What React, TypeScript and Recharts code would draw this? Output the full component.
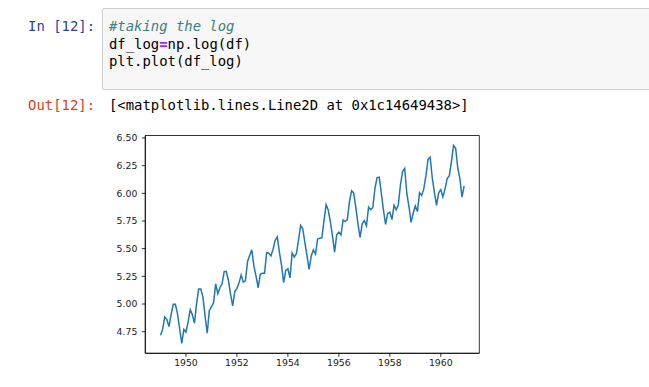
import { Line, LineChart, ReferenceArea, XAxis, YAxis } from "recharts";

// log of monthly airline passengers, one array per year (Jan..Dec)
const years = [1949, 1950, 1951, 1952, 1953, 1954, 1955, 1956, 1957, 1958, 1959, 1960];
const log1949 = [4.718, 4.771, 4.883, 4.860, 4.796, 4.905, 4.997, 4.997, 4.913, 4.779, 4.644, 4.771];
const log1950 = [4.745, 4.836, 4.949, 4.905, 4.828, 5.004, 5.136, 5.136, 5.063, 4.890, 4.736, 4.942];
const log1951 = [4.977, 5.011, 5.182, 5.094, 5.147, 5.182, 5.293, 5.293, 5.215, 5.088, 4.984, 5.112];
const log1952 = [5.142, 5.193, 5.263, 5.198, 5.209, 5.384, 5.438, 5.489, 5.342, 5.252, 5.147, 5.268];
const log1953 = [5.278, 5.278, 5.464, 5.460, 5.434, 5.493, 5.576, 5.606, 5.468, 5.352, 5.193, 5.303];
const log1954 = [5.318, 5.236, 5.460, 5.425, 5.455, 5.576, 5.710, 5.680, 5.557, 5.434, 5.313, 5.434];
const log1955 = [5.489, 5.451, 5.587, 5.595, 5.598, 5.753, 5.897, 5.849, 5.743, 5.613, 5.468, 5.628];
const log1956 = [5.649, 5.624, 5.759, 5.746, 5.762, 5.924, 6.023, 6.004, 5.872, 5.724, 5.602, 5.724];
const log1957 = [5.753, 5.707, 5.875, 5.852, 5.872, 6.045, 6.142, 6.146, 6.001, 5.849, 5.720, 5.817];
const log1958 = [5.829, 5.762, 5.892, 5.852, 5.894, 6.075, 6.196, 6.225, 6.001, 5.883, 5.737, 5.820];
const log1959 = [5.886, 5.835, 6.006, 5.981, 6.040, 6.157, 6.306, 6.326, 6.138, 6.009, 5.892, 6.004];
const log1960 = [6.033, 5.969, 6.038, 6.133, 6.157, 6.282, 6.433, 6.407, 6.230, 6.133, 5.966, 6.068];

const xTicks = [1950, 1952, 1954, 1956, 1958, 1960];
const yTicks = [4.75, 5.0, 5.25, 5.5, 5.75, 6.0, 6.25, 6.5];

const byYear = [log1949, log1950, log1951, log1952, log1953, log1954, log1955, log1956, log1957, log1958, log1959, log1960];
const rows = years.flatMap((year, i) => byYear[i].map((v, m) => ({ t: year + m / 12, v })));

const X_DOMAIN: [number, number] = [1948.404, 1961.512];
const Y_DOMAIN: [number, number] = [4.555, 6.522];

const MONO = "'DejaVu Sans Mono', monospace";
const TICK_FONT = { fontFamily: "'DejaVu Sans', sans-serif", fontSize: 9.3, fill: "#222" };

const monoText: React.CSSProperties = {
  position: "absolute",
  fontFamily: MONO,
  fontSize: 13.9,
  lineHeight: "17.6px",
  whiteSpace: "pre"
};

export default function App() {
  return (
    <div style={{ position: "absolute", left: 0, top: 0, width: 649, height: 387, background: "#fff", overflow: "hidden" }}>
      <div style={{ ...monoText, left: 28, width: 67, textAlign: "right", top: 18, color: "#303F9F" }}>In [12]:</div>
      <div
        style={{
          position: "absolute",
          left: 102,
          top: 8,
          width: 560,
          height: 80,
          background: "#f7f7f7",
          border: "1px solid #cfcfcf",
          borderRadius: 2
        }}
      />
      <div style={{ ...monoText, left: 109, top: 18, color: "#000" }}>
        <div style={{ color: "#408080", fontStyle: "italic" }}>#taking the log</div>
        <div>
          df_log<span style={{ color: "#AA22FF", fontWeight: "bold" }}>=</span>np.log(df)
        </div>
        <div>plt.plot(df_log)</div>
      </div>

      <div style={{ ...monoText, left: 28, width: 67, textAlign: "right", top: 97, color: "#D84315" }}>Out[12]:</div>
      <div style={{ ...monoText, left: 109, top: 97, color: "#000" }}>
        {"[<matplotlib.lines.Line2D at 0x1c14649438>]"}
      </div>

      <div style={{ position: "absolute", left: 100, top: 125 }}>
        <LineChart
          width={400}
          height={260}
          data={rows}
          margin={{ top: 10.5, right: 20.7, left: 0, bottom: 6.7 }}
        >
          <XAxis
            dataKey="t"
            type="number"
            domain={X_DOMAIN}
            allowDataOverflow
            ticks={xTicks}
            tickFormatter={(v: number) => String(Math.round(v))}
            height={25}
            tickSize={3.5}
            tickMargin={2.5}
            tick={TICK_FONT}
            stroke="#000"
            strokeWidth={0.8}
          />
          <YAxis
            type="number"
            domain={Y_DOMAIN}
            allowDataOverflow
            ticks={yTicks}
            tickFormatter={(v: number) => v.toFixed(2)}
            width={45.3}
            tickSize={3.5}
            tickMargin={4.5}
            tick={TICK_FONT}
            stroke="#000"
            strokeWidth={0.8}
          />
          {/* full axes frame, like matplotlib's four spines */}
          <ReferenceArea
            x1={X_DOMAIN[0]}
            x2={X_DOMAIN[1]}
            y1={Y_DOMAIN[0]}
            y2={Y_DOMAIN[1]}
            fill="none"
            fillOpacity={0}
            stroke="#000"
            strokeWidth={0.8}
            ifOverflow="visible"
          />
          <Line
            type="linear"
            dataKey="v"
            stroke="#1f77b4"
            strokeWidth={1.5}
            dot={false}
            activeDot={false}
            isAnimationActive={false}
          />
        </LineChart>
      </div>
    </div>
  );
}
